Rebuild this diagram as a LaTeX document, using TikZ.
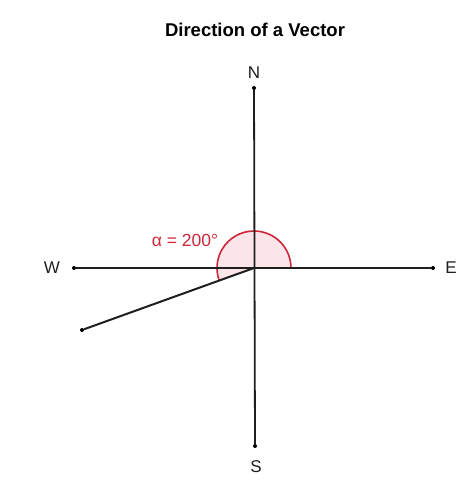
\documentclass[tikz,border=0pt]{standalone}
\usepackage{fontspec}
\setmainfont{Liberation Sans}
\definecolor{anglered}{rgb}{0.80,0.15,0.22}
\definecolor{anglefill}{rgb}{0.99,0.90,0.91}
\tikzset{
  axis/.style={line width=1.8bp, draw={rgb,255:red,30;green,30;blue,30}},
  tip/.style={circle, fill=black, inner sep=0bp, minimum size=4bp},
  compass/.style={font=\fontsize{17bp}{19bp}\selectfont, text={rgb,255:red,30;green,30;blue,30}},
}
\begin{document}
\begin{tikzpicture}[x=1bp,y=-1bp,line join=bevel]
  \useasboundingbox (0,0) rectangle (474,484);
  % Title
  \node (title) at (255,30) {\fontsize{18.5bp}{20bp}\selectfont\bfseries Direction of a Vector};
  % Node: O
  \coordinate (O) at (254,268);
  % Node: N, S, W, E
  \node[tip] (N) at (254,88) {};
  \node[tip] (S) at (255,446) {};
  \node[tip] (W) at (74,268) {};
  \node[tip] (E) at (433,268) {};
  \node[tip] (V) at (82,330) {};
  \node[compass] (Nlab) at (254,73) {N};
  \node[compass] (Slab) at (256,467) {S};
  \node[compass] (Wlab) at (52,268) {W};
  \node[compass] (Elab) at (451,268) {E};
  % Angle
  \fill[anglefill] (O) -- ++(0:37bp) arc[start angle=0, end angle=200, radius=37bp] -- cycle;
  \draw[anglered, line width=1.6bp] (O) ++(0:37bp) arc[start angle=0, end angle=200, radius=37bp];
  \node[anglered, font=\fontsize{17.5bp}{19bp}\selectfont] (alpha) at (185,240) {α = 200°};
  % Edge: axes
  \draw[axis] (N) -- (S);
  \draw[axis] (W) -- (E);
  % Edge: O -> V
  \draw[axis, line width=2bp] (O) -- (V);
\end{tikzpicture}
\end{document}
